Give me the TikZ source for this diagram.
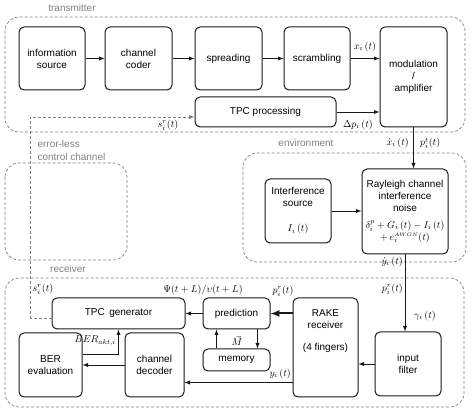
\documentclass[tikz,border=0pt]{standalone}
\usepackage{fontspec}
\setmainfont{Liberation Sans}
\usepackage{xcolor}
\definecolor{regionGray}{RGB}{128,128,128}
\definecolor{lineBlack}{RGB}{25,25,25}

\begin{document}
\begin{tikzpicture}[x=1pt, y=-1pt,
    block/.style={draw=lineBlack, line width=1pt, rounded corners=5pt, align=center,
        inner sep=1pt, font=\fontsize{10}{12}\selectfont},
    region/.style={draw=regionGray, dash pattern=on 3pt off 2pt, line width=0.7pt, rounded corners=14pt},
    regionlabel/.style={regionGray, font=\fontsize{10}{13}\selectfont},
    lbl/.style={inner sep=1pt, font=\fontsize{10}{12}\selectfont},
    flow/.style={draw=lineBlack, line width=0.9pt, -latex}]
    \useasboundingbox (0,0) rectangle (474,411);

    % dashed regions
    \draw[region] (5,17) rectangle (465,132);
    \draw[region] (5,163) rectangle (127,260);
    \draw[region] (243,153) rectangle (466,262);
    \draw[region] (5,278) rectangle (464,407);
    \node[regionlabel] (txlabel) at (72,8) {transmitter};
    \node[regionlabel, align=left, anchor=west] (chlabel) at (34,150) {error-less\\control channel};
    \node[regionlabel] (envlabel) at (306,143) {environment};
    \node[regionlabel] (rxlabel) at (68,269) {receiver};

    % transmitter
    \node[block, minimum width=66pt, minimum height=63pt] (source) at (52,58.5) {information\\source};
    \node[block, minimum width=67pt, minimum height=63pt] (coder) at (138.5,58.5) {channel\\coder};
    \node[block, minimum width=67pt, minimum height=63pt] (spread) at (228.5,58.5) {spreading};
    \node[block, minimum width=66pt, minimum height=63pt] (scramble) at (317,58.5) {scrambling};
    \node[block, minimum width=67pt, minimum height=100pt] (modul) at (413.5,77) {modulation\\/\\amplifier};
    \node[block, minimum width=141pt, minimum height=30pt] (tpcproc) at (265.5,112) {TPC processing};

    % environment
    \node[block, minimum width=66pt, minimum height=64pt] (intsrc) at (298,211) {Interference\\source\\[13pt]$I_i\,(t)$};
    \node[block, minimum width=86pt, minimum height=85pt] (rayleigh) at (405,211.5)
        {Rayleigh channel\\interference\\noise\\[5pt]$\delta_i^p+G_i\,(t)-I_i\,(t)$\\$+\,e_i^{\scriptscriptstyle AWGN}(t)$};

    % receiver
    \node[block, minimum width=133pt, minimum height=31pt] (tpcgen) at (118.5,313.5) {TPC\, generator};
    \node[block, minimum width=67pt, minimum height=31pt] (predict) at (236.5,313.5) {prediction};
    \node[block, minimum width=67pt, minimum height=22pt] (memory) at (236.5,360) {memory};
    \node[block, minimum width=65pt, minimum height=99pt] (rake) at (325.5,347.5) {RAKE\\receiver\\[10pt](4 fingers)\\[22pt]\mbox{}};
    \node[block, minimum width=66pt, minimum height=64pt] (filter) at (408,364) {input\\filter};
    \node[block, minimum width=59pt, minimum height=64pt] (decoder) at (154.5,365) {channel\\decoder};
    \node[block, minimum width=63pt, minimum height=64pt] (ber) at (50.5,365) {BER\\evaluation};

    % signal labels
    \node[lbl] (xlab) at (365,47) {$x_i\,(t)$};
    \node[lbl] (dplab) at (358,125) {$\Delta p_i\,(t)$};
    \node[lbl] (srtlab) at (168,125) {$s_i^r(t)$};
    \node[lbl, anchor=east] (xdlab) at (410,143) {$\dot{x}_i\,(t)$};
    \node[lbl, anchor=west] (ptlab) at (419,143) {$p_i^t(t)$};
    \node[lbl, anchor=east] (ydlab) at (404,262) {$\dot{y}_i\,(t)$};
    \node[lbl, anchor=east] (prlab) at (404,289) {$p_i^r(t)$};
    \node[lbl, anchor=west] (gamlab) at (413,316) {$\gamma_i\,(t)$};
    \node[lbl] (srrlab) at (43,289) {$s_i^r(t)$};
    \node[lbl] (psilab) at (203,290) {$\Psi(t+L)/\upsilon(t+L)$};
    \node[lbl] (prrlab) at (283,291) {$p_i^r(t)$};
    \node[lbl] (mlab) at (237,341) {$\vec{M}$};
    \node[lbl, anchor=east] (ylab) at (292,374) {$y_i\,(t)$};
    \node[lbl, anchor=east] (berlab) at (117,341) {$BER_{akt,i}$};

    % connectors
    \draw[flow] (source) -- (coder);
    \draw[flow] (coder) -- (spread);
    \draw[flow] (spread) -- (scramble);
    \draw[flow] (scramble.east) -- (scramble.east -| modul.west);
    \draw[flow] (tpcproc.east) -- (tpcproc.east -| modul.west);
    \draw[flow] (modul.south) -- (modul.south |- rayleigh.north);
    \draw[flow] (intsrc.east) -- (intsrc.east -| rayleigh.west);
    \draw[flow] (rayleigh.south) -- (rayleigh.south |- filter.north);
    \draw[flow] (filter.west) -- (filter.west -| rake.east);
    \draw[flow, line width=2pt] (predict.east -| rake.west) -- (predict.east);
    \draw[flow] (predict) -- (tpcgen);
    \draw[flow] ([xshift=14pt]memory.north west) -- ([xshift=14pt]predict.south west);
    \draw[flow] ([xshift=-13pt]predict.south east) -- ([xshift=-13pt]memory.north east);
    \draw[flow] ([yshift=15pt]rake.south west) -- ([yshift=15pt]rake.south west -| decoder.east);
    \draw[flow] (decoder) -- (ber);
    \draw[flow] ([yshift=11pt]ber.east) -| (tpcgen.south);

    % error-less control channel
    \coordinate (ctrl) at (30,200);
    \draw[flow, draw=regionGray, dash pattern=on 3pt off 2pt] ([yshift=-4.5pt]tpcgen.west) -| (ctrl) |- ([yshift=-5pt]tpcproc.west);
\end{tikzpicture}
\end{document}
